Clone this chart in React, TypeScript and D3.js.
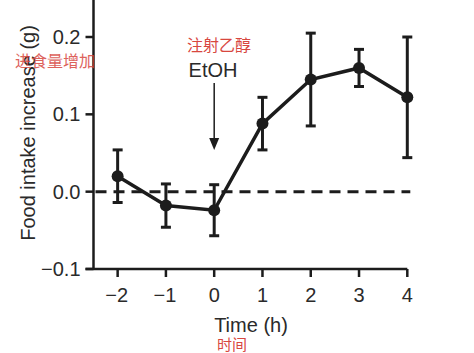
import { useRef, useEffect } from "react";
import { select, scaleLinear, line } from "d3";

const WIDTH = 474;
const HEIGHT = 353;

const hours = [-2, -1, 0, 1, 2, 3, 4];
const intake = [0.02, -0.018, -0.024, 0.088, 0.145, 0.16, 0.122];
const sem = [0.034, 0.028, 0.033, 0.034, 0.06, 0.024, 0.078];
const xTicks = [-2, -1, 0, 1, 2, 3, 4];
const yTicks = [-0.1, 0.0, 0.1, 0.2];

const FONT = "'Liberation Sans', Arial, Helvetica, sans-serif";
const INK = "#1c1c1c";
const RED = "#d8473f";

function App() {
  const svgRef = useRef<SVGSVGElement>(null);

  useEffect(() => {
    const svg = select(svgRef.current);
    svg.selectAll("*").remove();

    const x = scaleLinear().domain([-2.5, 4]).range([93.5, 407.3]);
    const y = scaleLinear().domain([-0.1, 0.2]).range([269, 37]);

    const fmt = (v: number) => (v < 0 ? "\u2212" : "") + Math.abs(v).toFixed(1);
    const fmtX = (v: number) => (v < 0 ? "\u2212" : "") + Math.abs(v);

    // y axis
    const yAxis = svg.append("g");
    yAxis.append("line")
      .attr("x1", x(-2.5)).attr("x2", x(-2.5))
      .attr("y1", 0).attr("y2", y(-0.1))
      .attr("stroke", INK).attr("stroke-width", 2.5);
    yAxis.selectAll(".tick")
      .data(yTicks)
      .join("line")
      .attr("x1", x(-2.5) - 8).attr("x2", x(-2.5))
      .attr("y1", d => y(d)).attr("y2", d => y(d))
      .attr("stroke", INK).attr("stroke-width", 2.5);
    yAxis.selectAll(".lbl")
      .data(yTicks)
      .join("text")
      .attr("x", x(-2.5) - 13)
      .attr("y", d => y(d) + 7)
      .attr("text-anchor", "end")
      .style("font-family", FONT).style("font-size", "20px")
      .attr("fill", "#2a2a2a")
      .text(d => fmt(d));

    // x axis
    const xAxis = svg.append("g");
    xAxis.append("line")
      .attr("x1", x(-2.5) - 8).attr("x2", x(4))
      .attr("y1", y(-0.1)).attr("y2", y(-0.1))
      .attr("stroke", INK).attr("stroke-width", 2.5);
    xAxis.selectAll(".tick")
      .data(xTicks)
      .join("line")
      .attr("x1", d => x(d)).attr("x2", d => x(d))
      .attr("y1", y(-0.1)).attr("y2", y(-0.1) + 8)
      .attr("stroke", INK).attr("stroke-width", 2.5);
    xAxis.selectAll(".lbl")
      .data(xTicks)
      .join("text")
      .attr("x", d => x(d) - (d < 0 ? 1 : 0))
      .attr("y", y(-0.1) + 33)
      .attr("text-anchor", "middle")
      .style("font-family", FONT).style("font-size", "20px")
      .attr("fill", "#2a2a2a")
      .text(d => fmtX(d));

    // axis labels
    svg.append("text")
      .attr("transform", `translate(35, ${133}) rotate(-90)`)
      .attr("text-anchor", "middle")
      .style("font-family", FONT).style("font-size", "20px")
      .attr("fill", "#2a2a2a")
      .text("Food intake increase (g)");
    svg.append("text")
      .attr("x", 251).attr("y", 332)
      .attr("text-anchor", "middle")
      .style("font-family", FONT).style("font-size", "20px")
      .attr("fill", "#2a2a2a")
      .text("Time (h)");

    // zero reference
    svg.append("line")
      .attr("x1", x(-2.5) + 2).attr("x2", x(4) + 3)
      .attr("y1", y(0)).attr("y2", y(0))
      .attr("stroke", INK).attr("stroke-width", 3)
      .attr("stroke-dasharray", "11,7");

    // error bars
    const pts = hours.map((h, i) => ({ h, v: intake[i], e: sem[i] }));
    const eb = svg.append("g").attr("stroke", INK).attr("stroke-width", 3);
    eb.selectAll(".bar").data(pts).join("line")
      .attr("x1", d => x(d.h)).attr("x2", d => x(d.h))
      .attr("y1", d => y(d.v + d.e)).attr("y2", d => y(d.v - d.e));
    eb.selectAll(".capTop").data(pts).join("line")
      .attr("x1", d => x(d.h) - 5).attr("x2", d => x(d.h) + 5)
      .attr("y1", d => y(d.v + d.e)).attr("y2", d => y(d.v + d.e));
    eb.selectAll(".capBot").data(pts).join("line")
      .attr("x1", d => x(d.h) - 5).attr("x2", d => x(d.h) + 5)
      .attr("y1", d => y(d.v - d.e)).attr("y2", d => y(d.v - d.e));

    // mean line + points
    const path = line<{ h: number; v: number }>().x(d => x(d.h)).y(d => y(d.v));
    svg.append("path")
      .attr("d", path(pts))
      .attr("fill", "none").attr("stroke", INK).attr("stroke-width", 3.5);
    svg.selectAll(".dot").data(pts).join("circle")
      .attr("cx", d => x(d.h)).attr("cy", d => y(d.v)).attr("r", 6)
      .attr("fill", INK);

    // injection arrow
    svg.append("line")
      .attr("x1", x(0)).attr("x2", x(0))
      .attr("y1", 83).attr("y2", 140)
      .attr("stroke", INK).attr("stroke-width", 1.5);
    svg.append("path")
      .attr("d", `M${x(0) - 5},${138} L${x(0) + 5},${138} L${x(0)},${150} Z`)
      .attr("fill", INK);
    svg.append("text")
      .attr("x", 213).attr("y", 77)
      .attr("text-anchor", "middle")
      .style("font-family", FONT).style("font-size", "20px")
      .attr("fill", "#2a2a2a")
      .text("EtOH");

    // chinese annotations
    const cjk = "'Noto Sans CJK SC', sans-serif";
    svg.append("text")
      .attr("x", 219).attr("y", 51)
      .attr("text-anchor", "middle")
      .style("font-family", cjk).style("font-size", "16px")
      .attr("fill", RED)
      .text("注射乙醇");
    svg.append("text")
      .attr("x", 15).attr("y", 67)
      .style("font-family", cjk).style("font-size", "16px")
      .attr("fill", RED).attr("opacity", 0.85)
      .text("进食量增加");
    svg.append("text")
      .attr("x", 232).attr("y", 350)
      .attr("text-anchor", "middle")
      .style("font-family", cjk).style("font-size", "15px")
      .attr("fill", RED)
      .text("时间");
  }, []);

  return (
    <svg
      ref={svgRef}
      width={WIDTH}
      height={HEIGHT}
      style={{ position: "absolute", left: 0, top: 0, background: "#fff" }}
    />
  );
}

export default App;
